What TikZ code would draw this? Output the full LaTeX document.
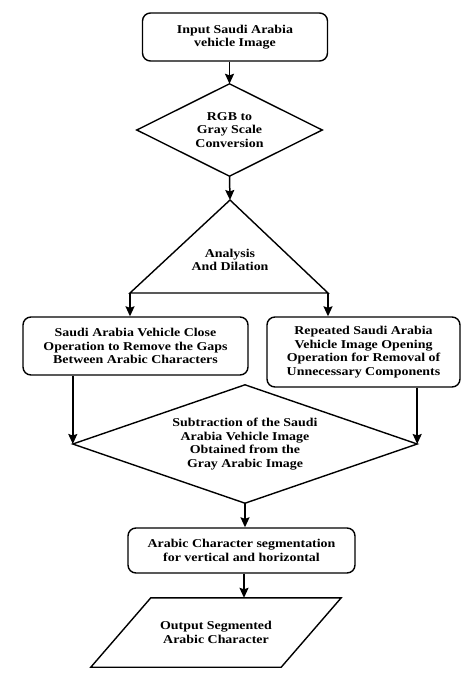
\documentclass[tikz,border=0pt]{standalone}
\usepackage{fontspec}
\setmainfont{Liberation Serif}[FakeStretch=1.16]
\usetikzlibrary{arrows.meta}
\begin{document}
\begin{tikzpicture}[x=1pt,y=-1pt,
  every node/.style={font=\fontsize{12}{13.6}\selectfont\bfseries, align=center, inner sep=0pt},
  procbox/.style={draw, rounded corners=8pt, line width=1.4pt},
  edge/.style={line width=1.4pt, line join=miter},
  flow/.style={line width=1.5pt, -{Stealth[length=10pt,width=9pt,inset=1.5pt]}}]
\useasboundingbox (0,0) rectangle (474,678);

\node[procbox, minimum width=185pt, minimum height=48pt] (in) at (235,37) {Input Saudi Arabia\\vehicle Image};

\node[minimum width=185pt, minimum height=92pt] (d1) at (229.5,130) {RGB to\\Gray Scale\\Conversion};
\draw[edge] (d1.north) -- (d1.east) -- (d1.south) -- (d1.west) -- cycle;

\coordinate (apex) at (230,200);
\coordinate (cl) at (130,293);
\coordinate (cr) at (328,293);
\draw[edge] (cl) -- (apex) -- (cr) -- cycle;
\node (tri) at (230,260) {Analysis\\And Dilation};

\node[procbox, minimum width=225pt, minimum height=58pt] (L) at (135.5,346) {Saudi Arabia Vehicle Close\\Operation to Remove the Gaps\\Between Arabic Characters};
\node[procbox, minimum width=193pt, minimum height=70pt] (R) at (363.5,352) {Repeated Saudi Arabia\\Vehicle Image Opening\\Operation for Removal of\\Unnecessary Components};

\node[minimum width=344pt, minimum height=118pt] (d2) at (245,444) {Subtraction of the Saudi\\Arabia Vehicle Image\\Obtained from the\\Gray Arabic Image};
\draw[edge] (d2.north) -- (d2.east) -- (d2.south) -- (d2.west) -- cycle;

\node[procbox, minimum width=227pt, minimum height=45pt] (seg) at (241.5,550.5) {Arabic Character segmentation\\for vertical and horizontal};

\node[minimum width=190pt, minimum height=69pt] (out) at (216,632.5) {Output Segmented\\Arabic Character};
\draw[edge] ([xshift=30pt]out.north west) -- ([xshift=30pt]out.north east) -- ([xshift=-30pt]out.south east) -- ([xshift=-30pt]out.south west) -- cycle;

\draw[flow] (d1.north |- in.south) -- (d1.north);
\draw[flow] (d1.south) -- (apex);
\draw[flow] (cl) -- (cl |- L.north);
\draw[flow] (cr) -- (cr |- R.north);
\draw[flow] (d2.west |- L.south) -- (d2.west);
\draw[flow] (d2.east |- R.south) -- (d2.east);
\draw[flow] (d2.south) -- (d2.south |- seg.north);
\draw[flow] ([xshift=2.5pt]seg.south) -- ([xshift=2.5pt]seg.south |- out.north);
\end{tikzpicture}
\end{document}
